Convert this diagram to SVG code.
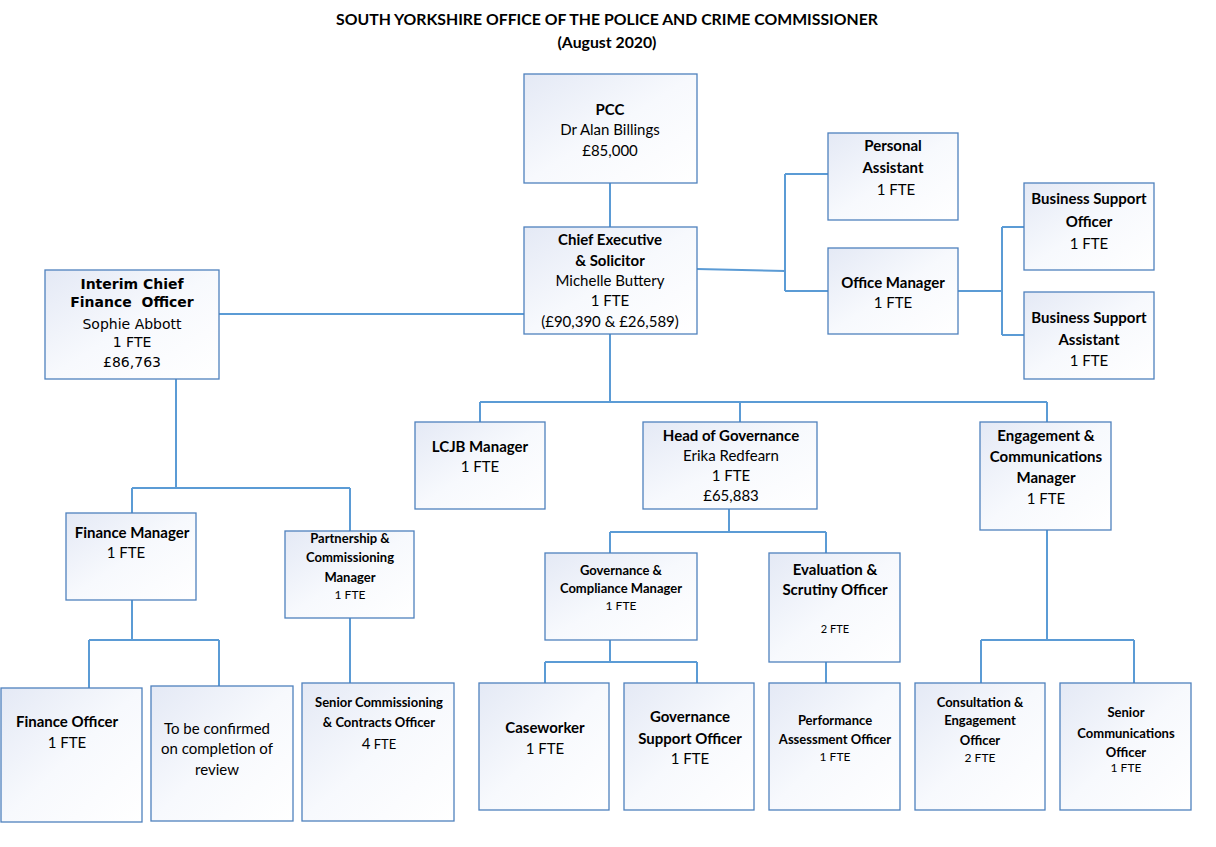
<svg xmlns="http://www.w3.org/2000/svg" width="1216" height="847" viewBox="0 0 1216 847">
<defs>
<linearGradient id="g" x1="0" y1="0" x2="1" y2="1">
<stop offset="0" stop-color="#e4e9f5"/>
<stop offset="0.5" stop-color="#f7f9fd"/>
<stop offset="1" stop-color="#ffffff"/>
</linearGradient>
<style>
text{font-family:Lato,"Liberation Sans",sans-serif;font-size:15px;fill:#000;text-anchor:middle}
.b{font-weight:bold}
.s{font-size:13px}
.xs{font-size:12px}
.xxs{font-size:11px}
.t{font-size:15.8px;font-weight:bold}
.v{font-family:"DejaVu Sans","Liberation Sans",sans-serif;font-size:14px}
.vb{font-family:"DejaVu Sans","Liberation Sans",sans-serif;font-size:14px;font-weight:bold}
rect{fill:url(#g);stroke:#4f81bd;stroke-width:1.3}
.c path{fill:none;stroke:#5b9bd5;stroke-width:2}
</style>
</defs>
<rect x="0" y="0" width="1216" height="847" style="fill:#fff;stroke:none"/>
<g id="title">
<text x="607" y="25" class="t">SOUTH YORKSHIRE OFFICE OF THE POLICE AND CRIME COMMISSIONER</text>
<text x="607" y="48" class="t">(August 2020)</text>
</g>
<g class="c" id="connectors">
<path d="M610 183V227"/>
<path d="M524 314H219"/>
<path d="M697 269L785 271M785 174V291M785 174H828M785 291H828"/>
<path d="M958 291H1002M1002 227V335M1002 227H1024M1002 335H1024"/>
<path d="M610 334V402M480 402H1047M480 402V422M740 402V422M1047 402V422"/>
<path d="M176 379V488M132 488H350M132 488V513M350 488V531"/>
<path d="M132 600V640M89 640H219M89 640V688M219 640V686"/>
<path d="M350 618V683"/>
<path d="M729 509V532M610 532H826M610 532V553M826 532V553"/>
<path d="M610 640V662M545 662H697M545 662V683M697 662V683"/>
<path d="M826 662V683"/>
<path d="M1047 530V640M981 640H1134M981 640V683M1134 640V683"/>
</g>
<g id="pcc"><rect x="524" y="74" width="173" height="109"/>
<text x="610" y="115" class="b">PCC</text><text x="610" y="135">Dr Alan Billings</text><text x="610" y="156">£85,000</text></g>
<g id="ce"><rect x="524" y="227" width="173" height="107"/>
<text x="610" y="245" class="b">Chief Executive</text><text x="610" y="266" class="b">&amp; Solicitor</text><text x="610" y="286">Michelle Buttery</text><text x="610" y="306">1 FTE</text><text x="610" y="327">(£90,390 &amp; £26,589)</text></g>
<g id="cfo"><rect x="45" y="270" width="174" height="109"/>
<text x="132" y="289" class="vb">Interim Chief</text><text x="132" y="307" class="vb">Finance&#160; Officer</text><text x="132" y="329" class="v">Sophie Abbott</text><text x="132" y="347" class="v">1 FTE</text><text x="132" y="367" class="v">£86,763</text></g>
<g id="pa"><rect x="828" y="133" width="130" height="87"/>
<text x="893" y="151" class="b">Personal</text><text x="893" y="173" class="b">Assistant</text><text x="896" y="195">1 FTE</text></g>
<g id="om"><rect x="828" y="248" width="130" height="86"/>
<text x="893" y="288" class="b">Office Manager</text><text x="893" y="308">1 FTE</text></g>
<g id="bso"><rect x="1024" y="183" width="130" height="87"/>
<text x="1089" y="204" class="b">Business Support</text><text x="1089" y="227" class="b">Officer</text><text x="1089" y="249">1 FTE</text></g>
<g id="bsa"><rect x="1024" y="292" width="130" height="87"/>
<text x="1089" y="323" class="b">Business Support</text><text x="1089" y="345" class="b">Assistant</text><text x="1089" y="366">1 FTE</text></g>
<g id="lcjb"><rect x="415" y="422" width="130" height="87"/>
<text x="480" y="452" class="b">LCJB Manager</text><text x="480" y="472">1 FTE</text></g>
<g id="hog"><rect x="643" y="422" width="174" height="87"/>
<text x="731" y="441" class="b">Head of Governance</text><text x="731" y="461">Erika Redfearn</text><text x="731" y="481">1 FTE</text><text x="731" y="501">£65,883</text></g>
<g id="eng"><rect x="980" y="422" width="131" height="108"/>
<text x="1046" y="441" class="b">Engagement &amp;</text><text x="1046" y="462" class="b">Communications</text><text x="1046" y="483" class="b">Manager</text><text x="1046" y="504">1 FTE</text></g>
<g id="fm"><rect x="66" y="513" width="130" height="87"/>
<text x="132" y="538" class="b">Finance Manager</text><text x="126" y="558">1 FTE</text></g>
<g id="pcm"><rect x="285" y="531" width="129" height="87"/>
<text x="350" y="543" class="b s">Partnership &amp;</text><text x="350" y="562" class="b s">Commissioning</text><text x="350" y="582" class="b s">Manager</text><text x="350" y="599" class="xs">1 FTE</text></g>
<g id="gcm"><rect x="545" y="553" width="152" height="87"/>
<text x="621" y="575" class="b s">Governance &amp;</text><text x="621" y="593" class="b s">Compliance Manager</text><text x="621" y="610" class="xs">1 FTE</text></g>
<g id="eso"><rect x="769" y="553" width="131" height="109"/>
<text x="835" y="575" class="b">Evaluation &amp;</text><text x="835" y="595" class="b">Scrutiny Officer</text><text x="835" y="633" class="xxs">2 FTE</text></g>
<g id="fo"><rect x="1" y="688" width="141" height="134"/>
<text x="67" y="727" class="b">Finance Officer</text><text x="67" y="748">1 FTE</text></g>
<g id="tbc"><rect x="151" y="686" width="142" height="135"/>
<text x="217" y="734">To be confirmed</text><text x="217" y="754">on completion of</text><text x="217" y="775">review</text></g>
<g id="scco"><rect x="302" y="683" width="152" height="138"/>
<text x="379" y="707" class="b s">Senior Commissioning</text><text x="379" y="727" class="b s">&amp; Contracts Officer</text><text x="379" y="749" class="s"><tspan style="font-size:15px">4</tspan> FTE</text></g>
<g id="cw"><rect x="479" y="683" width="130" height="127"/>
<text x="545" y="733" class="b">Caseworker</text><text x="545" y="754">1 FTE</text></g>
<g id="gso"><rect x="624" y="683" width="130" height="127"/>
<text x="690" y="722" class="b">Governance</text><text x="690" y="744" class="b">Support Officer</text><text x="690" y="764">1 FTE</text></g>
<g id="pao"><rect x="769" y="683" width="131" height="127"/>
<text x="835" y="725" class="b s">Performance</text><text x="835" y="744" class="b s">Assessment Officer</text><text x="835" y="761" class="xs">1 FTE</text></g>
<g id="ceo"><rect x="915" y="683" width="130" height="127"/>
<text x="980" y="707" class="b s">Consultation &amp;</text><text x="980" y="725" class="b s">Engagement</text><text x="980" y="745" class="b s">Officer</text><text x="980" y="762" class="xs">2 FTE</text></g>
<g id="sco"><rect x="1060" y="683" width="131" height="127"/>
<text x="1126" y="717" class="b s">Senior</text><text x="1126" y="738" class="b s">Communications</text><text x="1126" y="757" class="b s">Officer</text><text x="1126" y="772" class="xs">1 FTE</text></g>
</svg>
